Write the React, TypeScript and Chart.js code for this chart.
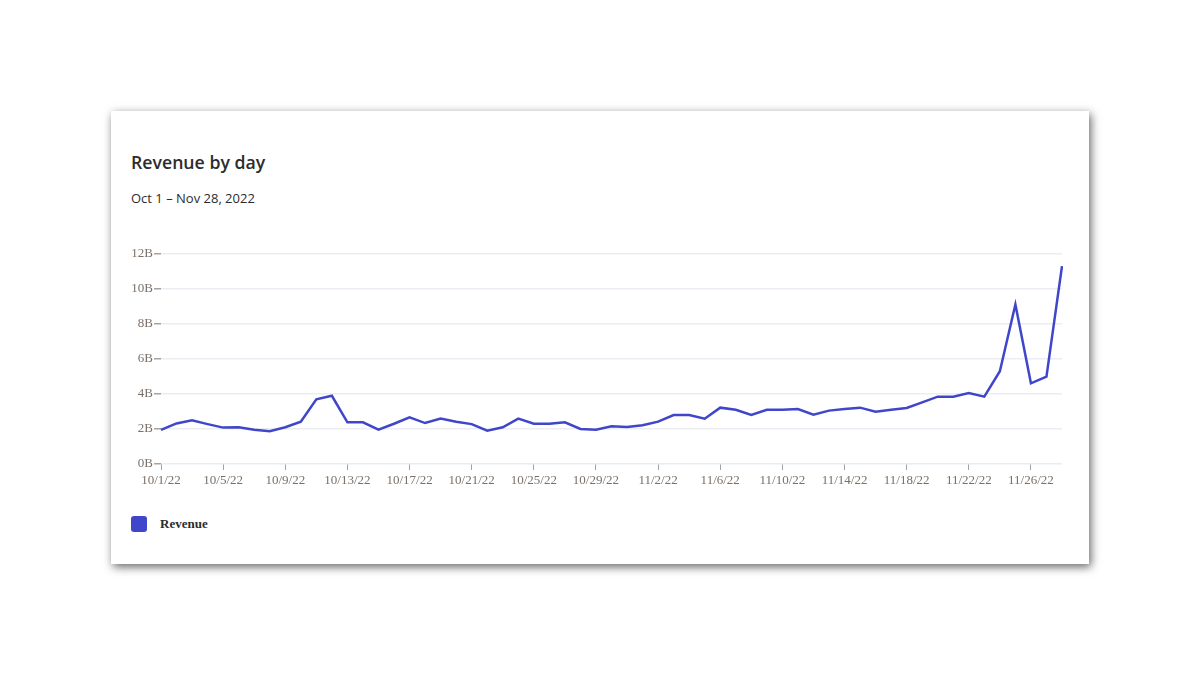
import React, { useEffect, useRef } from "react";
import { Chart, registerables } from "chart.js";

Chart.register(...registerables);

const chartTitle = "Revenue by day";
const chartSubtitle = "Oct 1 – Nov 28, 2022";
const seriesName = "Revenue";

const dateLabels = [
  "10/1/22", "10/2/22", "10/3/22", "10/4/22", "10/5/22", "10/6/22", "10/7/22", "10/8/22",
  "10/9/22", "10/10/22", "10/11/22", "10/12/22", "10/13/22", "10/14/22", "10/15/22", "10/16/22",
  "10/17/22", "10/18/22", "10/19/22", "10/20/22", "10/21/22", "10/22/22", "10/23/22", "10/24/22",
  "10/25/22", "10/26/22", "10/27/22", "10/28/22", "10/29/22", "10/30/22", "10/31/22",
  "11/1/22", "11/2/22", "11/3/22", "11/4/22", "11/5/22", "11/6/22", "11/7/22", "11/8/22",
  "11/9/22", "11/10/22", "11/11/22", "11/12/22", "11/13/22", "11/14/22", "11/15/22", "11/16/22",
  "11/17/22", "11/18/22", "11/19/22", "11/20/22", "11/21/22", "11/22/22", "11/23/22", "11/24/22",
  "11/25/22", "11/26/22", "11/27/22", "11/28/22",
];

// Revenue in billions
const octoberRevenue = [
  1.95, 2.32, 2.5, 2.28, 2.08, 2.1, 1.96, 1.87, 2.1, 2.42, 3.7, 3.9, 2.38, 2.38, 1.96, 2.3,
  2.67, 2.34, 2.6, 2.42, 2.28, 1.9, 2.1, 2.59, 2.3, 2.3, 2.38, 2.0, 1.96, 2.15, 2.12,
];
const novemberRevenue = [
  2.21, 2.42, 2.8, 2.8, 2.59, 3.22, 3.1, 2.8, 3.1, 3.1, 3.14, 2.82, 3.05, 3.14, 3.22, 2.99,
  3.1, 3.2, 3.52, 3.85, 3.85, 4.06, 3.85, 5.3, 9.12, 4.61, 4.99, 11.31,
];
const revenueBillions = [...octoberRevenue, ...novemberRevenue];

const yMin = 0;
const yMax = 12;
const yStep = 2;
const xLabelEvery = 4;

const LINE_COLOR = "#4046C9";
const GRID_COLOR = "#EBEDF3";
const TICK_MARK_COLOR = "#A3A3A3";
const TICK_TEXT_COLOR = "#7A7068";

export default function App() {
  const canvasRef = useRef<HTMLCanvasElement>(null);

  useEffect(() => {
    if (!canvasRef.current) return;
    const tickFont = { family: "'Liberation Serif', 'Times New Roman', serif", size: 13 };
    const chart = new Chart(canvasRef.current, {
      type: "line",
      data: {
        labels: dateLabels,
        datasets: [
          {
            label: seriesName,
            data: revenueBillions,
            borderColor: LINE_COLOR,
            backgroundColor: LINE_COLOR,
            borderWidth: 2.5,
            pointRadius: 0,
            tension: 0,
          },
        ],
      },
      options: {
        animation: false,
        responsive: false,
        maintainAspectRatio: false,
        layout: { padding: { top: 14, right: 10, left: 0, bottom: 0 } },
        plugins: {
          tooltip: { enabled: false },
          legend: { display: false },
        },
        scales: {
          x: {
            offset: false,
            border: { display: false },
            grid: {
              drawOnChartArea: false,
              tickLength: 6,
              tickColor: (ctx: any) => (ctx.index % xLabelEvery === 0 ? TICK_MARK_COLOR : "rgba(0,0,0,0)"),
            },
            ticks: {
              autoSkip: false,
              maxRotation: 0,
              minRotation: 0,
              padding: 3,
              color: TICK_TEXT_COLOR,
              font: tickFont,
              callback: (_v: any, i: number) => (i % xLabelEvery === 0 ? dateLabels[i] : ""),
            },
            afterFit: (s: any) => {
              s.height = 30;
            },
          },
          y: {
            min: yMin,
            max: yMax,
            border: { display: false },
            grid: {
              color: GRID_COLOR,
              lineWidth: 1.5,
              tickColor: TICK_MARK_COLOR,
              tickLength: 7,
            },
            ticks: {
              stepSize: yStep,
              padding: 1,
              color: TICK_TEXT_COLOR,
              font: tickFont,
              callback: (v: any) => `${v}B`,
            },
            afterFit: (s: any) => {
              s.width = 40;
            },
          },
        },
      },
    } as any);
    return () => chart.destroy();
  }, []);

  return (
    <div>
      <div
        style={{
          position: "absolute",
          left: 111,
          top: 111,
          width: 978,
          height: 453,
          background: "#fff",
          boxShadow: "2px 3px 9px rgba(0,0,0,0.6)",
        }}
      />
      <div
        style={{
          position: "absolute",
          left: 131,
          top: 150,
          lineHeight: "24px",
          fontFamily: "'Open Sans', sans-serif",
          fontSize: 17.7,
          fontWeight: 600,
          color: "#2C2C2C",
          whiteSpace: "nowrap",
        }}
      >
        {chartTitle}
      </div>
      <div
        style={{
          position: "absolute",
          left: 131,
          top: 189,
          lineHeight: "18px",
          fontFamily: "'Open Sans', sans-serif",
          fontSize: 13,
          color: "#2C2C2C",
          whiteSpace: "nowrap",
        }}
      >
        {chartSubtitle}
      </div>
      <canvas
        ref={canvasRef}
        width={951}
        height={254}
        style={{ position: "absolute", left: 121, top: 240, width: 951, height: 254 }}
      />
      <div
        style={{
          position: "absolute",
          left: 131,
          top: 516,
          width: 16,
          height: 16,
          borderRadius: 3,
          background: LINE_COLOR,
        }}
      />
      <div
        style={{
          position: "absolute",
          left: 160,
          top: 515,
          lineHeight: "18px",
          fontFamily: "'Liberation Serif', 'Times New Roman', serif",
          fontSize: 13,
          fontWeight: 700,
          color: "#2B2B2B",
          whiteSpace: "nowrap",
        }}
      >
        {seriesName}
      </div>
    </div>
  );
}
